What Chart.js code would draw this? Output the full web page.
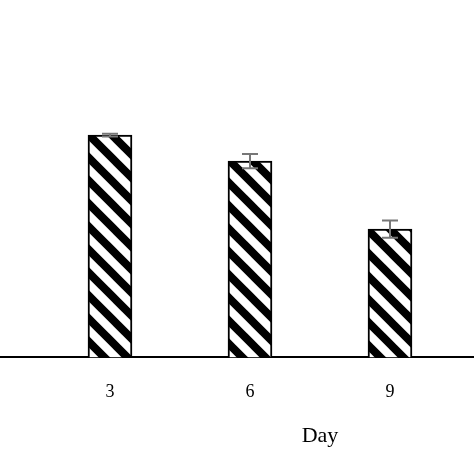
<!DOCTYPE html>
<html><head><meta charset="utf-8">
<script src="https://cdn.jsdelivr.net/npm/chart.js@4/dist/chart.umd.min.js"></script>
<style>html,body{margin:0;padding:0;background:#fff}</style>
</head><body>
<canvas id="c" width="474" height="474"></canvas>
<script>
const days = [3, 6, 9];
const values = [62.2, 54.9, 35.9];
const errors = [0.4, 2.0, 2.4];
const xTitle = 'Day';

function stripes(){
  const s = 23, p = document.createElement('canvas');
  p.width = s; p.height = s;
  const g = p.getContext('2d');
  g.fillStyle = '#fff'; g.fillRect(0,0,s,s);
  g.strokeStyle = '#000'; g.lineWidth = 8; g.lineCap = 'square';
  for (const o of [-s, 0, s]) { g.beginPath(); g.moveTo(o - 10, -10); g.lineTo(o + s + 10, s + 10); g.stroke(); }
  return g.createPattern(p, 'repeat');
}
const ctx = document.getElementById('c').getContext('2d');
const errPlugin = {
  id: 'err',
  afterDatasetsDraw(chart){
    const c = chart.ctx, xs = chart.scales.x, ys = chart.scales.y;
    c.save(); c.strokeStyle = '#777'; c.lineWidth = 2;
    days.forEach((d,i)=>{
      const x = xs.getPixelForValue(d), t = ys.getPixelForValue(values[i]+errors[i]), b = ys.getPixelForValue(values[i]-errors[i]);
      c.beginPath(); c.moveTo(x,t); c.lineTo(x,b);
      c.moveTo(x-8,t); c.lineTo(x+8,t); c.moveTo(x-8,b); c.lineTo(x+8,b); c.stroke();
    });
    c.fillStyle = '#000'; c.font = '22px "Liberation Serif"'; c.textAlign = 'center'; c.textBaseline = 'middle';
    c.fillText(xTitle, 320, 436);
    c.restore();
  }
};
new Chart(ctx, {
  type: 'bar',
  data: { datasets: [{ data: days.map((d,i)=>({x:d, y:values[i]})), backgroundColor: stripes(), borderColor: '#000', borderWidth: 2, barThickness: 44, borderSkipped: 'bottom' }] },
  options: {
    responsive: false, animation: false,
    layout: { padding: { left: 0, right: 0, top: 0, bottom: 47 } },
    plugins: { legend: { display: false }, tooltip: { enabled: false } },
    scales: {
      x: { type: 'linear', min: 0.643, max: 10.8, offset: false,
           afterBuildTicks(a){ a.ticks = days.map(v=>({value:v})); },
           grid: { display: false, drawTicks: false },
           border: { color: '#000', width: 2 },
           ticks: { padding: 24, color: '#000', font: { family: 'Liberation Serif', size: 18 } } },
      y: { display: false, min: 0, max: 100 }
    }
  },
  plugins: [errPlugin]
});
</script>
</body></html>
